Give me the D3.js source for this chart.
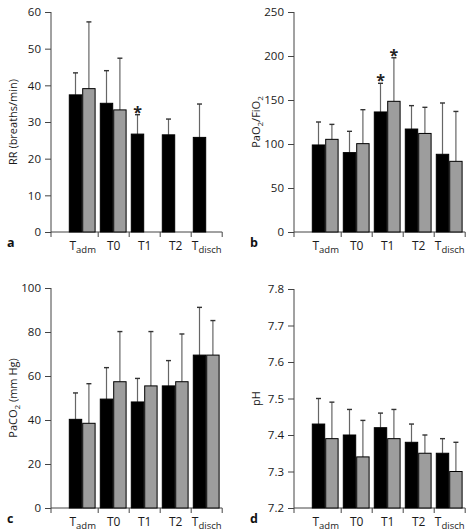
<!DOCTYPE html>
<html><head><meta charset="utf-8">
<script src="https://cdn.jsdelivr.net/npm/d3@7"></script>
<style>
body{margin:0;background:#fff;}
svg{display:block;font-family:"Open Sans",sans-serif;}
</style></head>
<body><svg id="chart" width="474" height="532"></svg>
<script>
// ---- data ----
const categories = ["Tadm", "T0", "T1", "T2", "Tdisch"];
const catMain = ["T", "T0", "T1", "T2", "T"];
const catSub = ["adm", "", "", "", "disch"];

const rrBlack = [37.4, 35.1, 26.7, 26.5, 25.8];
const rrBlackSD = [6.0, 8.9, 5.3, 4.3, 9.1];
const rrGray = [39.1, 33.3, null, null, null];
const rrGraySD = [18.2, 14.1, null, null, null];
const rrTicks = [0, 10, 20, 30, 40, 50, 60];

const pfBlack = [98.9, 90.2, 136.4, 117.0, 88.3];
const pfBlackSD = [26.1, 24.2, 32.6, 26.6, 58.3];
const pfGray = [105.3, 100.4, 148.5, 112.0, 80.3];
const pfGraySD = [17.0, 38.6, 49.5, 29.7, 56.7];
const pfTicks = [0, 50, 100, 150, 200, 250];

const pcBlack = [40.3, 49.5, 48.2, 55.5, 69.5];
const pcBlackSD = [12.0, 14.3, 10.7, 11.5, 21.7];
const pcGray = [38.5, 57.4, 55.5, 57.4, 69.5];
const pcGraySD = [18.0, 22.8, 24.7, 21.7, 15.7];
const pcTicks = [0, 20, 40, 60, 80, 100];

const phBlack = [7.43, 7.40, 7.42, 7.38, 7.35];
const phBlackSD = [0.07, 0.07, 0.04, 0.05, 0.04];
const phGray = [7.39, 7.34, 7.39, 7.35, 7.30];
const phGraySD = [0.10, 0.10, 0.08, 0.05, 0.08];
const phTicks = [7.2, 7.3, 7.4, 7.5, 7.6, 7.7, 7.8];

// significance markers: [categoryIndex, series]
const rrStars = [[2, "black"]];
const pfStars = [[2, "black"], [2, "gray"]];

const svg = d3.select("#chart");

function drawPanel(o) {
  const g = svg.append("g");
  const y = d3.scaleLinear().domain([o.ticks[0], o.ticks[o.ticks.length - 1]]).range([o.bottom, o.top]);
  const x = d3.scaleBand().domain(categories).range([o.axisX + 16.2, o.axisX + 16.2 + 5 * 31]).paddingInner(0).paddingOuter(0);
  const xs = d3.scaleBand().domain(["black", "gray"]).range([1.6, 1.6 + 26.8]);

  // y axis
  const yAxis = d3.axisLeft(y).tickValues(o.ticks).tickSize(6).tickPadding(4)
    .tickFormat(o.fmt || d3.format("d"));
  const ya = g.append("g").attr("transform", `translate(${o.axisX},0)`).call(yAxis);
  ya.select(".domain").remove();
  ya.selectAll("line").attr("stroke", "#444");
  ya.selectAll("text").attr("font-size", 11.5).attr("fill", "#1a1a1a").attr("font-family", "Open Sans");
  g.append("line").attr("x1", o.axisX).attr("x2", o.axisX).attr("y1", o.top).attr("y2", o.bottom + 5)
    .attr("stroke", "#444").attr("stroke-width", 1);
  // x axis baseline
  const xEnd = x.range()[1];
  g.append("line").attr("x1", o.axisX).attr("x2", xEnd).attr("y1", o.bottom).attr("y2", o.bottom)
    .attr("stroke", "#444");
  g.selectAll(".xt").data(categories).enter().append("line")
    .attr("x1", d => x(d) + x.bandwidth()).attr("x2", d => x(d) + x.bandwidth())
    .attr("y1", o.bottom).attr("y2", o.bottom + 5).attr("stroke", "#444");

  // bars
  const series = [
    {key: "black", vals: o.black, sd: o.blackSD, fill: "#000"},
    {key: "gray", vals: o.gray, sd: o.graySD, fill: "#9d9d9d"}
  ];
  series.forEach(s => {
    const data = categories.map((c, i) => ({c, v: s.vals[i], e: s.sd[i]})).filter(d => d.v != null);
    // error bars
    g.selectAll(null).data(data).enter().append("line")
      .attr("x1", d => x(d.c) + xs(s.key) + xs.bandwidth() / 2)
      .attr("x2", d => x(d.c) + xs(s.key) + xs.bandwidth() / 2)
      .attr("y1", d => y(d.v)).attr("y2", d => y(d.v + d.e))
      .attr("stroke", "#666").attr("stroke-width", 1.2);
    g.selectAll(null).data(data).enter().append("line")
      .attr("x1", d => x(d.c) + xs(s.key) + xs.bandwidth() / 2 - 2.5)
      .attr("x2", d => x(d.c) + xs(s.key) + xs.bandwidth() / 2 + 2.5)
      .attr("y1", d => y(d.v + d.e)).attr("y2", d => y(d.v + d.e))
      .attr("stroke", "#333").attr("stroke-width", 1.4);
    g.selectAll(null).data(data).enter().append("rect")
      .attr("x", d => x(d.c) + xs(s.key) + 0.5)
      .attr("y", d => y(d.v))
      .attr("width", xs.bandwidth() - 1)
      .attr("height", d => o.bottom - y(d.v))
      .attr("fill", s.fill).attr("stroke", "#000").attr("stroke-width", 1);
    // stars
    (o.stars || []).filter(st => st[1] === s.key).forEach(st => {
      const i = st[0];
      g.append("text").attr("x", x(categories[i]) + xs(s.key) + xs.bandwidth() / 2)
        .attr("y", y(s.vals[i] + s.sd[i]) + 3)
        .attr("text-anchor", "middle").attr("font-size", 16).attr("font-weight", "bold")
        .attr("fill", "#222").text("*");
    });
  });

  // category labels
  categories.forEach((c, i) => {
    const t = g.append("text").attr("x", x(c) + x.bandwidth() / 2).attr("y", o.bottom + 18)
      .attr("text-anchor", "middle").attr("font-size", 12).attr("fill", "#1a1a1a");
    t.append("tspan").text(catMain[i]);
    if (catSub[i]) t.append("tspan").attr("font-size", 9.5).attr("dy", 3).text(catSub[i]);
  });

  // y label
  const cy = (o.top + o.bottom) / 2;
  const yl = g.append("text").attr("transform", `translate(${o.axisX - 34},${cy}) rotate(-90)`)
    .attr("text-anchor", "middle").attr("font-size", 11).attr("fill", "#1a1a1a");
  o.ylabel.forEach(p => {
    const ts = yl.append("tspan").text(p.t);
    if (p.sub) ts.attr("font-size", 8).attr("dy", 3);
    else if (p.after) ts.attr("dy", -3);
  });

  // panel letter
  g.append("text").attr("x", o.axisX - 44).attr("y", o.bottom + 15).attr("font-size", 12.5)
    .attr("font-weight", "bold").attr("fill", "#111").text(o.letter);
}

drawPanel({axisX: 51, top: 12, bottom: 232, ticks: rrTicks, black: rrBlack, blackSD: rrBlackSD,
  gray: rrGray, graySD: rrGraySD, stars: rrStars, letter: "a",
  ylabel: [{t: "RR (breaths/min)"}]});
drawPanel({axisX: 294, top: 12, bottom: 232, ticks: pfTicks, black: pfBlack, blackSD: pfBlackSD,
  gray: pfGray, graySD: pfGraySD, stars: pfStars, letter: "b",
  ylabel: [{t: "PaO"}, {t: "2", sub: true}, {t: "/FiO", after: true}, {t: "2", sub: true}]});
drawPanel({axisX: 51, top: 288, bottom: 508, ticks: pcTicks, black: pcBlack, blackSD: pcBlackSD,
  gray: pcGray, graySD: pcGraySD, letter: "c",
  ylabel: [{t: "PaCO"}, {t: "2", sub: true}, {t: " (mm Hg)", after: true}]});
drawPanel({axisX: 294, top: 289, bottom: 508, ticks: phTicks, black: phBlack, blackSD: phBlackSD,
  gray: phGray, graySD: phGraySD, letter: "d", fmt: d3.format(".1f"),
  ylabel: [{t: "pH"}]});
</script></body></html>
